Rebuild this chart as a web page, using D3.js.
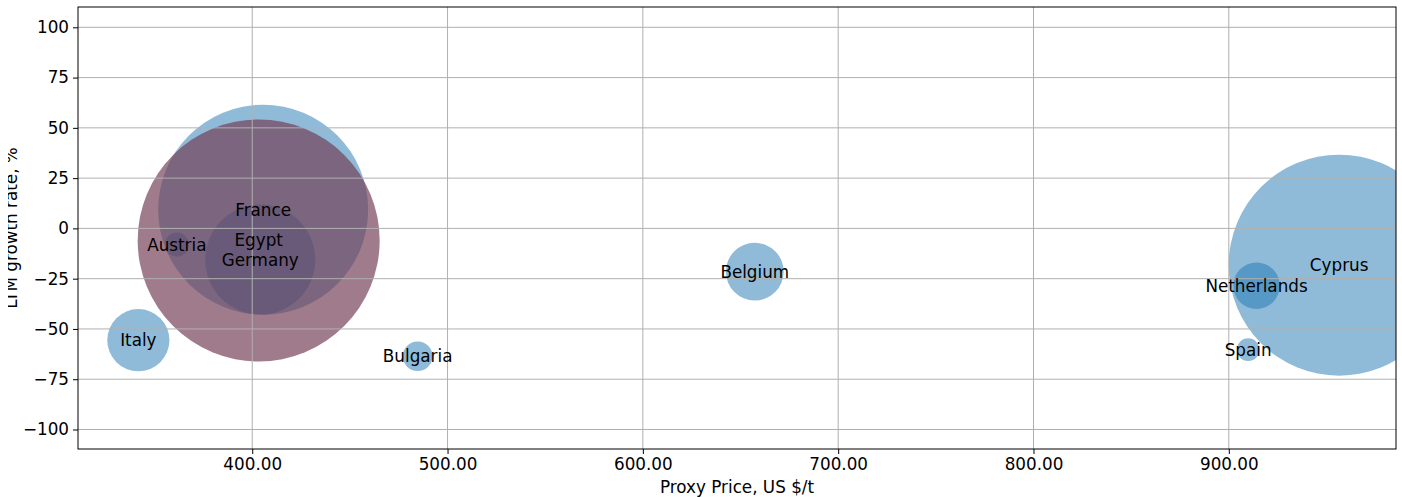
<!DOCTYPE html>
<html>
<head>
<meta charset="utf-8">
<script src="https://cdn.jsdelivr.net/npm/d3@7"></script>
<style>
  body { margin: 0; background: #fff; }
  svg { display: block; font-family: "DejaVu Sans", sans-serif; }
  .tick text { font-size: 16.8px; fill: #000; }
  .tick line { stroke: #000; }
</style>
</head>
<body>
<svg id="chart"></svg>
<script>
const countries = ['France', 'Germany', 'Austria', 'Italy', 'Bulgaria', 'Belgium', 'Cyprus', 'Netherlands', 'Spain', 'Egypt'];
const prices    = [405.6, 404.1, 361.4, 341.7, 484.7, 657.3, 956.5, 914.2, 909.9, 403.3];
const growth    = [9.3, -15.5, -8.1, -55.6, -63.6, -21.5, -18.3, -28.5, -60.3, -6.0];
const volumes   = [75.3, 20.7, 1.0, 6.6, 1.5, 5.7, 83.4, 3.7, 0.87, 100];
const highlight = ['Egypt'];

const xTicks = [400, 500, 600, 700, 800, 900];
const yTicks = [-100, -75, -50, -25, 0, 25, 50, 75, 100];

const width = 1402;
const height = 497;
const margin = { top: 7, right: 6, bottom: 48, left: 78 };
const fontSize = '16.8px';

const svg = d3.select('#chart')
              .attr('width', width)
              .attr('height', height);

const xScale = d3.scaleLinear()
                 .domain([310.8, 985.6])
                 .range([margin.left, width - margin.right]);

const yScale = d3.scaleLinear()
                 .domain([-109.7, 110.1])
                 .range([height - margin.bottom, margin.top]);

const rScale = d3.scaleSqrt()
                 .domain([0, d3.max(volumes)])
                 .range([0, 121]);

const data = countries.map((c, i) => ({
    name: c,
    price: prices[i],
    growth: growth[i],
    volume: volumes[i],
    hi: highlight.includes(c)
}));

svg.append('clipPath')
   .attr('id', 'plotClip')
   .append('rect')
   .attr('x', margin.left)
   .attr('y', margin.top)
   .attr('width', width - margin.left - margin.right)
   .attr('height', height - margin.top - margin.bottom);

const plot = svg.append('g').attr('clip-path', 'url(#plotClip)');

// blue bubbles first, highlighted one drawn over them
const ordered = data.filter(d => !d.hi).concat(data.filter(d => d.hi));

plot.selectAll('circle')
    .data(ordered)
    .enter()
    .append('circle')
    .attr('cx', d => xScale(d.price))
    .attr('cy', d => yScale(d.growth))
    .attr('r', d => rScale(d.volume))
    .attr('fill', d => d.hi ? '#733c54' : '#1f77b4')
    .attr('fill-opacity', d => d.hi ? 0.68 : 0.5);

// grid sits on top of the bubbles
const grid = svg.append('g')
    .attr('stroke', '#b0b0b0')
    .attr('stroke-width', 1);

grid.selectAll('line.gx')
    .data(xTicks)
    .enter()
    .append('line')
    .attr('x1', d => xScale(d))
    .attr('x2', d => xScale(d))
    .attr('y1', margin.top)
    .attr('y2', height - margin.bottom);

grid.selectAll('line.gy')
    .data(yTicks)
    .enter()
    .append('line')
    .attr('y1', d => yScale(d))
    .attr('y2', d => yScale(d))
    .attr('x1', margin.left)
    .attr('x2', width - margin.right);

svg.selectAll('text.label')
   .data(data)
   .enter()
   .append('text')
   .attr('class', 'label')
   .attr('x', d => xScale(d.price))
   .attr('y', d => yScale(d.growth))
   .attr('text-anchor', 'middle')
   .attr('dominant-baseline', 'central')
   .style('font-size', fontSize)
   .text(d => d.name);

const xAxis = svg.append('g')
    .attr('transform', `translate(0, ${height - margin.bottom})`)
    .call(d3.axisBottom(xScale).tickValues(xTicks).tickFormat(d3.format('.2f')).tickSize(5).tickPadding(4));

const yAxis = svg.append('g')
    .attr('transform', `translate(${margin.left}, 0)`)
    .call(d3.axisLeft(yScale).tickValues(yTicks).tickFormat(d => d3.format('')(d).replace('-', '\u2212')).tickSize(5).tickPadding(4));

xAxis.select('.domain').remove();
yAxis.select('.domain').remove();
xAxis.attr('font-family', null).attr('font-size', null);
yAxis.attr('font-family', null).attr('font-size', null);

// frame
svg.append('rect')
   .attr('x', margin.left)
   .attr('y', margin.top)
   .attr('width', width - margin.left - margin.right)
   .attr('height', height - margin.top - margin.bottom)
   .attr('fill', 'none')
   .attr('stroke', '#000')
   .attr('stroke-width', 1);

svg.append('text')
   .attr('x', (margin.left + width - margin.right) / 2)
   .attr('y', height - 4)
   .attr('text-anchor', 'middle')
   .style('font-size', fontSize)
   .text('Proxy Price, US $/t');

// y label is partly cut off in the original
svg.append('clipPath')
   .attr('id', 'yLabClip')
   .append('rect')
   .attr('x', 8).attr('y', 0).attr('width', 30).attr('height', height);

svg.append('g')
   .attr('clip-path', 'url(#yLabClip)')
   .append('text')
   .attr('transform', `translate(16.5, ${(margin.top + height - margin.bottom) / 2}) rotate(-90)`)
   .attr('text-anchor', 'middle')
   .style('font-size', fontSize)
   .text('LTM growth rate, %');
</script>
</body>
</html>
